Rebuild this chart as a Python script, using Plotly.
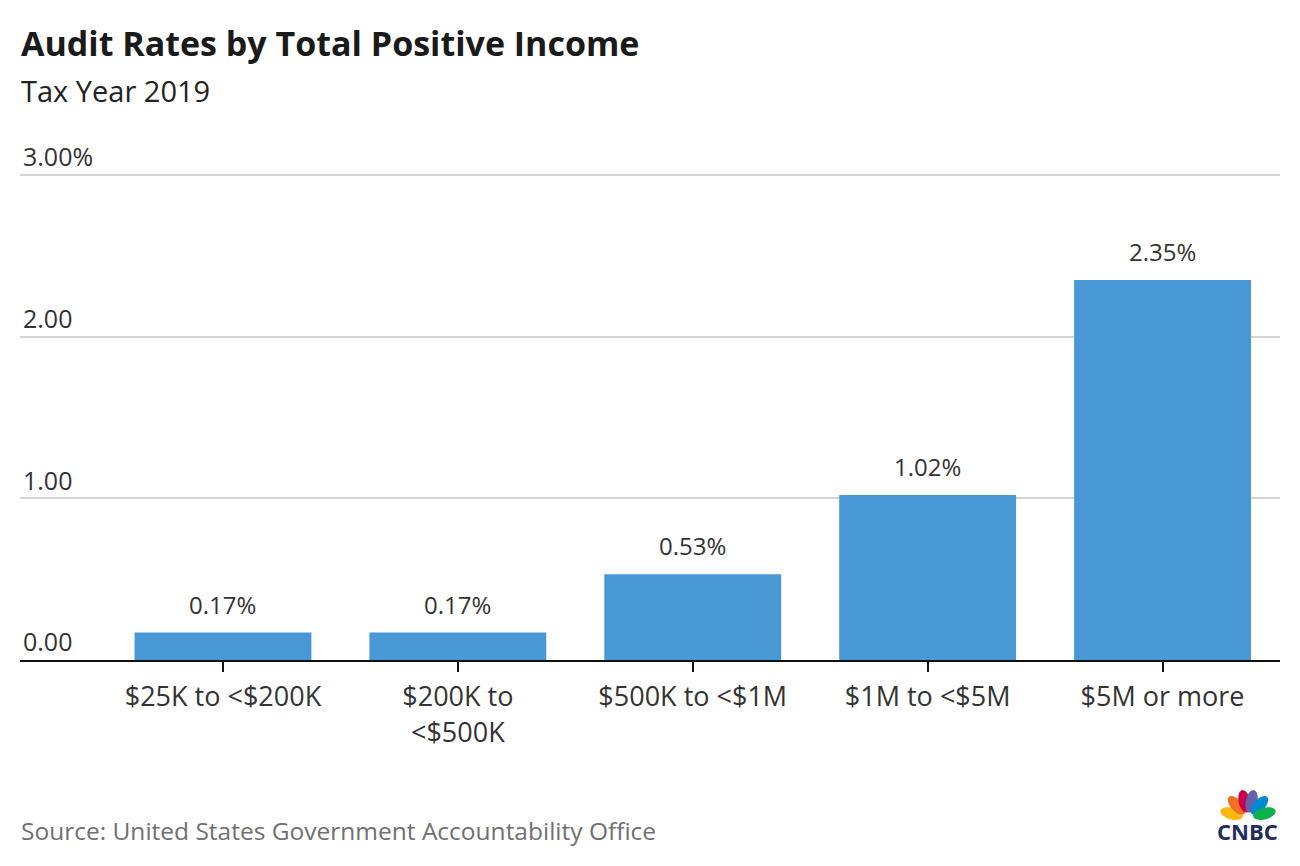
import math
import plotly.graph_objects as go

categories = ["$25K to <$200K", "$200K to<br><$500K", "$500K to <$1M", "$1M to <$5M", "$5M or more"]
audit_rates = [0.17, 0.17, 0.53, 1.02, 2.35]
bar_labels = ["0.17%", "0.17%", "0.53%", "1.02%", "2.35%"]
y_tick_vals = [0, 1, 2, 3]
y_tick_text = ["0.00", "1.00", "2.00", "3.00%"]

FONT = "'Open Sans', Lato, sans-serif"
W, H = 1300, 866
Y_TOP = 3.2
PX_PER_UNIT = (660 - 175) / 3.0
ML, MR, MB = 12, 28, 214
MT = round(H - MB - Y_TOP * PX_PER_UNIT)
OFF = 8  # page body offset
pw = W - ML - MR
ph = H - MT - MB
y_top = ph / PX_PER_UNIT

def px(xs):
    return (xs - OFF - ML) / pw

def py(ys):
    return (H - MB - (ys - OFF)) / ph

fig = go.Figure()
fig.add_trace(go.Bar(
    x=list(range(len(categories))),
    y=audit_rates,
    width=0.753,
    marker=dict(color="#4898d6", line=dict(width=0)),
    hoverinfo="skip",
))

for i, (v, lab) in enumerate(zip(audit_rates, bar_labels)):
    fig.add_annotation(x=i, y=v, xref="x", yref="y", text=lab, showarrow=False,
                       yanchor="bottom", yshift=10,
                       font=dict(family=FONT, size=24, color="#333333"))

fig.update_layout(
    width=W, height=H,
    margin=dict(l=ML, r=MR, t=MT, b=MB, autoexpand=False),
    paper_bgcolor="white", plot_bgcolor="white",
    showlegend=False,
    xaxis=dict(
        tickmode="array",
        tickvals=list(range(len(categories))),
        ticktext=categories,
        range=[-0.864, 4.5],
        showgrid=False,
        showline=True, linecolor="#111111", linewidth=2,
        ticks="outside", ticklen=10, tickwidth=2, tickcolor="#111111",
        tickfont=dict(family=FONT, size=27, color="#333333"),
        ticklabelstandoff=2,
        zeroline=False,
        automargin=False,
    ),
    yaxis=dict(
        range=[0, y_top],
        tickmode="array",
        tickvals=y_tick_vals,
        ticktext=y_tick_text,
        ticklabelposition="inside top",
        ticklabeloverflow="allow",
        tickfont=dict(family=FONT, size=25, color="#333333"),
        showgrid=True, gridcolor="#d4d4d4", gridwidth=2,
        zeroline=False,
        showline=False,
        ticks="",
        automargin=False,
    ),
    font=dict(family=FONT),
)

fig.add_annotation(text="<b>Audit Rates by Total Positive Income</b>", x=px(19), y=py(43),
                   xref="paper", yref="paper", xanchor="left", yanchor="middle",
                   showarrow=False, font=dict(family=FONT, size=34, color="#1a1a1a"))
fig.add_annotation(text="Tax Year 2019", x=px(19), y=py(90),
                   xref="paper", yref="paper", xanchor="left", yanchor="middle",
                   showarrow=False, font=dict(family=FONT, size=29, color="#222222"))
fig.add_annotation(text="Source: United States Government Accountability Office", x=px(19), y=py(830),
                   xref="paper", yref="paper", xanchor="left", yanchor="middle",
                   showarrow=False, font=dict(family=FONT, size=24.5, color="#707070"))

# CNBC logo approximation
fig.add_annotation(text="<b>CNBC</b>", x=px(1247), y=py(831),
                   xref="paper", yref="paper", xanchor="center", yanchor="middle",
                   showarrow=False, font=dict(family="'Open Sans', sans-serif", size=22, color="#1f2b5e"))
pivot = (1248, 818)
feathers = [(165, "#fcb711"), (132, "#f37021"), (102, "#cc004c"), (78, "#6460aa"), (48, "#0089d0"), (15, "#0db14b")]
shapes = []
for ang, col in feathers:
    a = math.radians(ang)
    cx = pivot[0] + 17 * math.cos(a)
    cy = pivot[1] - 17 * math.sin(a)
    pts = []
    for k in range(28):
        t = 2 * math.pi * k / 28
        u = 11.5 * math.cos(t)
        v = 5.8 * math.sin(t)
        xx = cx + u * math.cos(a) - v * math.sin(a)
        yy = cy - (u * math.sin(a) + v * math.cos(a))
        pts.append((px(xx), py(yy)))
    path = "M " + " L ".join(f"{p[0]:.5f},{p[1]:.5f}" for p in pts) + " Z"
    shapes.append(dict(type="path", path=path, xref="paper", yref="paper",
                       fillcolor=col, line=dict(width=0), layer="above"))
fig.update_layout(shapes=shapes)

fig.write_html("out.html")
